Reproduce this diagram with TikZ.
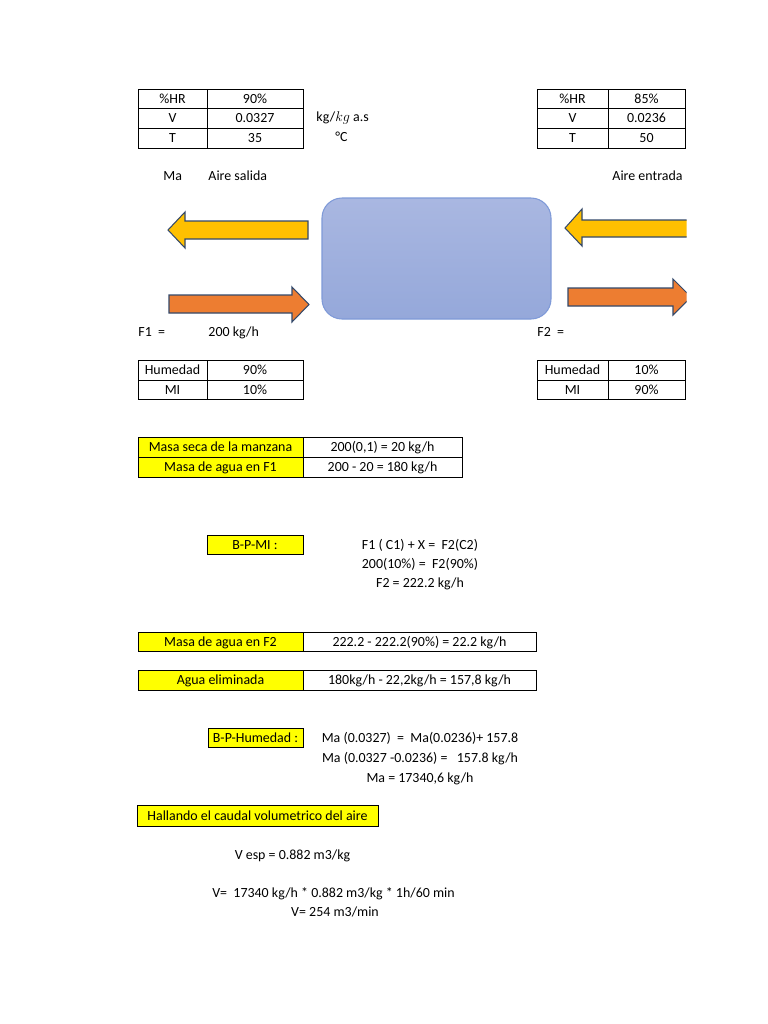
\documentclass[tikz,border=0pt]{standalone}
\usepackage{fontspec}
\setmainfont{Carlito}

\definecolor{airyellow}{HTML}{FFC000}
\definecolor{feedorange}{HTML}{ED7D31}
\definecolor{arrowline}{HTML}{34496A}
\definecolor{boxline}{HTML}{7F9AD8}
\definecolor{boxtop}{HTML}{A9B7E1}
\definecolor{boxbottom}{HTML}{95A8DA}
\definecolor{hilite}{HTML}{FFFF00}

% one table cell: fill, corners, text
\newcommand\tabcell[6][white]{%
  \filldraw[fill=#1] (#2,#3) rectangle (#4,#5);
  \node[txt] at ({(#2+#4)/2},{(#3+#5)/2+4.5}) {#6};}

\begin{document}
\begin{tikzpicture}[x=0.03cm,y=-0.03cm,line width=0.8pt,
    txt/.style={anchor=base,inner sep=0pt,font=\fontsize{11.9}{14}\selectfont},
    airarrow/.style={draw=arrowline,line width=0.9pt,fill=airyellow},
    feedarrow/.style={draw=arrowline,line width=0.9pt,fill=feedorange}]
  \useasboundingbox[fill=white] (0,0) rectangle (768,1024);

  % air data tables
  \tabcell{138}{89}{207}{108}{\%HR}   \tabcell{207}{89}{303}{108}{90\%}
  \tabcell{138}{108}{207}{128}{V}     \tabcell{207}{108}{303}{128}{0.0327}
  \tabcell{138}{128}{207}{148}{T}     \tabcell{207}{128}{303}{148}{35}
  \tabcell{537}{89}{608}{108}{\%HR}   \tabcell{608}{89}{685}{108}{85\%}
  \tabcell{537}{108}{608}{128}{V}     \tabcell{608}{108}{685}{128}{0.0236}
  \tabcell{537}{128}{608}{148}{T}     \tabcell{608}{128}{685}{148}{50}
  \node[txt,anchor=base west] (unitV) at (316,121.5) {kg/$kg$ a.s};
  \node[txt,anchor=base west] (unitT) at (335,141.5) {°C};

  \node[txt,anchor=base west] (ma) at (163,180.5) {Ma};
  \node[txt,anchor=base west] (salida) at (208,180.5) {Aire salida};
  \node[txt,anchor=base east] (entrada) at (683,180.5) {Aire entrada};

  % dryer
  \shade[draw=boxline,line width=0.9pt,top color=boxtop,bottom color=boxbottom,
    rounded corners=0.6cm] (322,198) rectangle (551,319);

  % flows
  \draw[airarrow] (308,221) -- (185,221) -- (185,212) -- (168,230) -- (185,248)
    -- (185,239) -- (308,239) -- cycle;
  \draw[feedarrow] (169,295) -- (292,295) -- (292,287) -- (309,304.5) -- (292,322)
    -- (292,313) -- (169,313) -- cycle;
  \begin{scope}
    \clip (0,0) rectangle (686.5,1024);
    \draw[airarrow] (690,220) -- (582,220) -- (582,209) -- (565,228) -- (582,246)
      -- (582,237) -- (690,237) -- cycle;
    \draw[feedarrow] (568,288) -- (673,288) -- (673,279) -- (691,297) -- (673,315)
      -- (673,306) -- (568,306) -- cycle;
  \end{scope}

  \node[txt,anchor=base west] (fone) at (138,336.5) {F1\ \ =};
  \node[txt,anchor=base west] (fonerate) at (208,336.5) {200 kg/h};
  \node[txt,anchor=base west] (ftwo) at (537,336.5) {F2\ \ =};

  % apple tables
  \tabcell{138}{360}{207}{380}{Humedad} \tabcell{207}{360}{303}{380}{90\%}
  \tabcell{138}{380}{207}{399}{MI}      \tabcell{207}{380}{303}{399}{10\%}
  \tabcell{537}{360}{608}{380}{Humedad} \tabcell{608}{360}{685}{380}{10\%}
  \tabcell{537}{380}{608}{399}{MI}      \tabcell{608}{380}{685}{399}{90\%}

  \tabcell[hilite]{138}{437}{303}{457}{Masa seca de la manzana}
  \tabcell{303}{437}{462}{457}{200(0,1) = 20 kg/h}
  \tabcell[hilite]{138}{457}{303}{477}{Masa de agua en F1}
  \tabcell{303}{457}{462}{477}{200 - 20 = 180 kg/h}

  % solids balance
  \tabcell[hilite]{207}{535}{303}{554}{B-P-MI :}
  \node[txt] (mione) at (420,549.5) {F1 ( C1) + X =\ \ F2(C2)};
  \node[txt] (mitwo) at (420,568.5) {200(10\%) =\ \ F2(90\%)};
  \node[txt] (mithree) at (420,587.5) {F2 = 222.2 kg/h};

  \tabcell[hilite]{138}{632}{303}{651}{Masa de agua en F2}
  \tabcell{303}{632}{536}{651}{222.2 - 222.2(90\%) = 22.2 kg/h}
  \tabcell[hilite]{138}{670}{303}{690}{Agua eliminada}
  \tabcell{303}{670}{536}{690}{180kg/h - 22,2kg/h = 157,8 kg/h}

  % moisture balance
  \tabcell[hilite]{208}{728}{303}{747}{B-P-Humedad :}
  \node[txt] (humone) at (420,742.5) {Ma (0.0327)\ \ =\ \ Ma(0.0236)+ 157.8};
  \node[txt] (humtwo) at (420,762.5) {Ma (0.0327 -0.0236) =\ \ \ 157.8 kg/h};
  \node[txt] (humthree) at (420,782.5) {Ma = 17340,6 kg/h};

  % air flow
  \tabcell[hilite]{137}{805}{378}{826}{Hallando el caudal volumetrico del aire}
  \node[txt] (vesp) at (292.5,859.5) {V esp = 0.882 m3/kg};
  \node[txt] (vcalc) at (333.5,897.5) {V=\ \ 17340 kg/h * 0.882 m3/kg * 1h/60 min};
  \node[txt] (vres) at (335,916.5) {V= 254 m3/min};
\end{tikzpicture}
\end{document}
